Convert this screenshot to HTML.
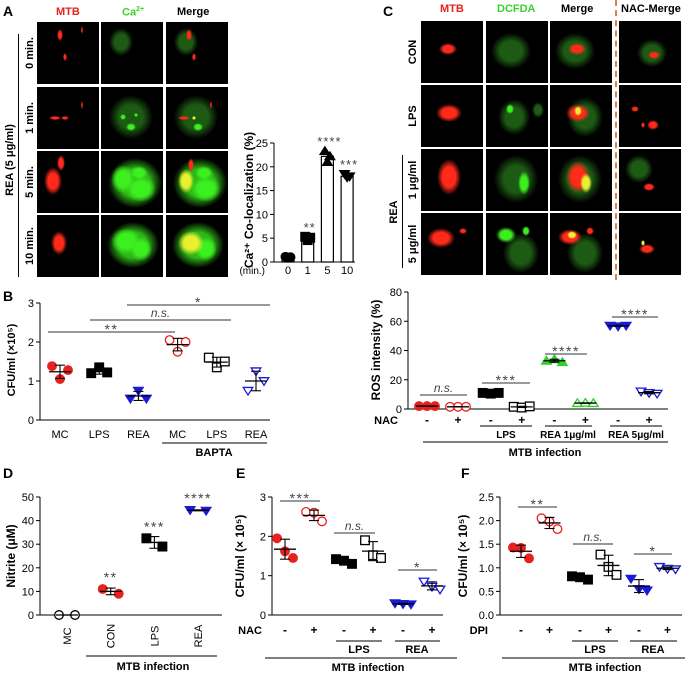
<!DOCTYPE html>
<html><head><meta charset="utf-8">
<style>
html,body{margin:0;padding:0;background:#fff;}
body{width:685px;height:674px;position:relative;overflow:hidden;font-family:"Liberation Sans",sans-serif;}
.cell{position:absolute;width:62px;height:62px;background:#000;}
.lbl{position:absolute;font-weight:bold;font-size:11px;white-space:nowrap;}
.rot{position:absolute;font-weight:bold;font-size:11px;white-space:nowrap;transform:translate(-50%,-50%) rotate(-90deg);}
#charts{position:absolute;left:0;top:0;}
</style></head>
<body>
<div class="lbl" style="left:3px;top:3px;font-size:14px">A</div>
<div class="lbl" style="left:383px;top:3px;font-size:14px">C</div>
<div class="lbl" style="left:3px;top:288px;font-size:14px">B</div>
<div class="lbl" style="left:3px;top:465px;font-size:14px">D</div>
<div class="lbl" style="left:236px;top:465px;font-size:14px">E</div>
<div class="lbl" style="left:461px;top:465px;font-size:14px">F</div>

<div class="lbl" style="left:56px;top:6px;color:#e8211f">MTB</div>
<div class="lbl" style="left:122px;top:6px;color:#39d12a">Ca<sup style="font-size:7px">2+</sup></div>
<div class="lbl" style="left:177px;top:6px">Merge</div>
<div style="position:absolute;left:18px;top:34px;width:1px;height:243px;background:#000"></div>
<div class="rot" style="left:10px;top:160px">REA (5 μg/ml)</div>
<div class="rot" style="left:30px;top:53px">0 min.</div>
<div class="rot" style="left:30px;top:118px">1 min.</div>
<div class="rot" style="left:30px;top:182px">5 min.</div>
<div class="rot" style="left:30px;top:246px">10 min.</div>

<div class="lbl" style="left:440px;top:3px;color:#e8211f">MTB</div>
<div class="lbl" style="left:497px;top:3px;color:#39d12a">DCFDA</div>
<div class="lbl" style="left:561px;top:3px">Merge</div>
<div class="lbl" style="left:621px;top:3px">NAC-Merge</div>
<div style="position:absolute;left:615px;top:0;width:0;height:280px;border-left:2px dashed #d9824a"></div>
<div class="rot" style="left:413px;top:52px">CON</div>
<div class="rot" style="left:413px;top:116px">LPS</div>
<div class="rot" style="left:413px;top:180px">1 μg/ml</div>
<div class="rot" style="left:413px;top:244px">5 μg/ml</div>
<div class="rot" style="left:394px;top:212px">REA</div>
<div style="position:absolute;left:402px;top:155px;width:1px;height:113px;background:#000"></div>

<div id="cells"></div>
<svg id="charts" width="685" height="674"></svg>

<script>
// ---------- microscopy cells (decorative) ----------
const R='#ff2a1a',G='#3cf020',Y='#e8f030',GD='#1d5a14',GM='#2fb818';
const cellDefs=[
 // panel A
 [37,22,[[R,23,13,3,6],[R,28,35,2,4],[R,45,8,1,4]]],
 [101,22,[[GD,20,20,12,14]]],
 [166,22,[[R,23,13,3,6],[R,28,35,2,4],[GD,20,20,12,14]]],
 [37,87,[[R,18,31,6,2],[R,28,31,4,2],[R,45,18,1,4]]],
 [101,87,[[G,22,30,3,3],[G,35,28,2,2],[G,30,40,5,4],[GD,30,30,22,22]]],
 [166,87,[[R,18,31,6,2],[Y,28,31,2,2],[R,45,18,1,4],[G,32,40,5,4],[GD,30,30,22,22]]],
 [37,151,[[R,16,30,9,14],[R,24,12,4,8]]],
 [101,151,[[G,22,28,12,14],[G,40,38,15,13],[G,38,22,9,7],[GM,34,32,27,25]]],
 [166,151,[[Y,20,30,8,12],[R,25,14,3,7],[G,40,38,15,13],[G,38,22,9,7],[GM,34,32,27,25]]],
 [37,215,[[R,22,28,8,12]]],
 [101,215,[[G,25,26,15,13],[G,40,34,11,12],[GM,32,30,26,23]]],
 [166,215,[[Y,25,28,13,12],[G,40,34,11,12],[GM,32,30,26,23]]],
 // panel C
 [421,21,[[R,27,28,9,6]]],
 [486,21,[[GD,25,30,20,18]]],
 [550,21,[[R,27,28,9,6],[GD,25,30,20,18]]],
 [619,21,[[R,35,34,6,4],[GD,33,32,15,14]]],
 [421,85,[[R,28,28,13,9]]],
 [486,85,[[G,24,24,4,5],[GD,52,25,6,8],[GD,28,32,16,18]]],
 [550,85,[[Y,28,26,4,5],[R,28,28,12,9],[GD,35,32,18,20]]],
 [619,85,[[R,16,24,4,3],[R,34,40,6,5],[R,24,40,2,3]]],
 [421,149,[[R,28,28,12,18]]],
 [486,149,[[G,38,34,6,12],[GD,30,30,22,24]]],
 [550,149,[[Y,36,34,6,10],[R,28,28,12,16],[GD,30,30,22,24]]],
 [619,149,[[R,30,38,6,4],[GD,20,20,14,14]]],
 [421,213,[[R,20,25,14,10],[R,42,18,4,3]]],
 [486,213,[[G,20,22,10,8],[G,40,18,4,5],[GD,35,40,18,20]]],
 [550,213,[[Y,22,22,5,4],[R,20,24,12,8],[R,40,18,4,4],[GD,35,40,18,20]]],
 [619,213,[[Y,24,30,2,3],[R,28,36,8,5]]]
];
const cellsDiv=document.getElementById('cells');
cellDefs.forEach(function(d,i){
  const el=document.createElement('div');
  el.className='cell';
  el.style.left=d[0]+'px';el.style.top=d[1]+'px';
  
  
  let bg=[];
  d[2].forEach(function(b){bg.push('radial-gradient(ellipse '+b[3]+'px '+b[4]+'px at '+b[1]+'px '+b[2]+'px,'+b[0]+' 0%,'+b[0]+' 55%,rgba(0,0,0,0) 100%)');});
  el.style.background=bg.join(',')+',#000';
  cellsDiv.appendChild(el);
});
</script>

<script>
// ---------- chart data ----------
const aCategories=['0','1','5','10'];
const aValues=[1.0,5.0,22.2,18.0];
const aPoints=[[1.1,0.9,1.0],[5.3,4.6,5.1],[23.3,21.0,22.2],[18.5,17.8,18.0]];
const aSig=['','**','****','***'];
const aTicks=[0,5,10,15,20,25];

const bCategories=['MC','LPS','REA','MC','LPS','REA'];
const bPoints=[[1.38,1.05,1.28],[1.2,1.35,1.22],[0.55,0.75,0.55],[2.05,1.75,2.0],[1.6,1.35,1.5],[0.75,1.25,1.0]];
const bTicks=[0,1,2,3];

const cCategories=['-','+','-','+','-','+','-','+'];
const cPoints=[[2,2,2],[1.5,1.5,1.5],[11,10.5,11],[1.5,1.0,1.8],[33,34,32],[4,4.2,4],[57,56.5,57],[12,11,10.5]];
const cTicks=[0,20,40,60,80];

const dCategories=['MC','CON','LPS','REA'];
const dPoints=[[0,0],[11,9],[32.5,29],[44.5,44.2]];
const dSig=['','**','***','****'];
const dTicks=[0,10,20,30,40,50];

const eCategories=['-','+','-','+','-','+'];
const ePoints=[[1.95,1.62,1.45],[2.62,2.6,2.38],[1.42,1.38,1.3],[1.9,1.52,1.45],[0.3,0.28,0.27],[0.85,0.72,0.65]];
const eTicks=[0,1,2,3];

const fCategories=['-','+','-','+','-','+'];
const fPoints=[[1.43,1.42,1.2],[2.05,1.98,1.82],[0.82,0.8,0.75],[1.28,1.02,0.85],[0.77,0.55,0.52],[1.02,0.98,0.97]];
const fTicks=[0,0.5,1.0,1.5,2.0,2.5];

// ---------- helpers ----------
const svg=document.getElementById('charts');
const NS='http://www.w3.org/2000/svg';
function mk(tag,attrs,name){
  const el=document.createElementNS(NS,tag);
  for(const k in attrs){el.setAttribute(k,attrs[k]);}
  
  
  svg.appendChild(el);
  return el;
}
function line(x1,y1,x2,y2,name,col,w){return mk('line',{x1:x1,y1:y1,x2:x2,y2:y2,stroke:col||'#000','stroke-width':w||1},name);}
function text(x,y,s,name,opt){
  opt=opt||{};
  const t=mk('text',{x:x,y:y,'font-size':opt.size||11,'text-anchor':opt.anchor||'middle','font-family':'Liberation Sans, sans-serif','font-weight':opt.bold?'bold':'normal','font-style':opt.italic?'italic':'normal',fill:opt.fill||'#000','letter-spacing':opt.ls||0},name);
  if(opt.rot)t.setAttribute('transform','rotate(-90 '+x+' '+y+')');
  t.textContent=s;return t;
}
function mean(a){return a.reduce(function(s,v){return s+v;},0)/a.length;}
function sd(a){const m=mean(a);return Math.sqrt(a.reduce(function(s,v){return s+(v-m)*(v-m);},0)/Math.max(1,a.length-1));}
function marker(type,x,y,col,name){
  const r=4.3;let fill=type.indexOf('Open')>=0?'#fff':col;
  if(type.indexOf('circle')===0)return mk('circle',{cx:x,cy:y,r:r,fill:fill,stroke:col,'stroke-width':1.3},name);
  if(type.indexOf('square')===0)return mk('rect',{x:x-r,y:y-r,width:2*r,height:2*r,fill:fill,stroke:col,'stroke-width':1.3},name);
  if(type.indexOf('triDown')===0)return mk('polygon',{points:(x-r-0.5)+','+(y-r+1)+' '+(x+r+0.5)+','+(y-r+1)+' '+x+','+(y+r),fill:fill,stroke:col,'stroke-width':1.3},name);
  return mk('polygon',{points:(x-r-0.5)+','+(y+r-1)+' '+(x+r+0.5)+','+(y+r-1)+' '+x+','+(y-r),fill:fill,stroke:col,'stroke-width':1.3},name);
}
function yAxis(x,y0,yTop,ticks,max,prefix,dec){
  line(x,y0,x,yTop,prefix+'-y-axis');
  ticks.forEach(function(t){const y=y0-(y0-yTop)*t/max;line(x-4,y,x,y,prefix+'-y-tick');text(x-6,y+4,dec?t.toFixed(1):String(t),prefix+'-y-tick-label',{anchor:'end',size:11});});
}
function scatterGroup(pts,x,y0,yTop,max,type,col,prefix,i){
  const off=pts.length===2?[-8,8]:[-8,0,8];
  const m=mean(pts),s=sd(pts);const sc=function(v){return y0-(y0-yTop)*v/max;};
  pts.forEach(function(v,j){marker(type,x+off[j],sc(v),col,prefix+'-point-'+i+'-'+j);});
  line(x-11,sc(m),x+11,sc(m),prefix+'-mean-'+i,'#000',1.3);
  line(x,sc(m-s),x,sc(m+s),prefix+'-errbar-'+i,'#000',1.1);
  line(x-5,sc(m-s),x+5,sc(m-s),prefix+'-errcap-lo-'+i,'#000',1.1);
  line(x-5,sc(m+s),x+5,sc(m+s),prefix+'-errcap-hi-'+i,'#000',1.1);
}
function sig(x1,x2,y,s,prefix,italic){line(x1,y,x2,y,prefix+'-sig-line','#333',1);text((x1+x2)/2,italic?y-3:y+2,s,prefix+'-sig-label',{size:italic?12:14,italic:italic,fill:'#444',ls:italic?0:1.5});}

// ---------- panel A bar chart ----------
(function(){
  const x0=274,y0=262,yT=143,max=25;const sc=function(v){return y0-(y0-yT)*v/max;};
  yAxis(x0,y0,yT,aTicks,max,'a',false);
  line(x0,y0,355,y0,'a-x-axis');
  const types=['circle','square','triUp','triDown'];
  aValues.forEach(function(v,i){
    const x=288+i*19.7;
    mk('rect',{x:x-6,y:sc(v),width:12,height:y0-sc(v),fill:'#fff',stroke:'#000','stroke-width':1.2},'a-bar-'+i);
    aPoints[i].forEach(function(p,j){marker(types[i],x+(j-1)*2.5,sc(p),'#000','a-point-'+i+'-'+j);});
    text(x,274,aCategories[i],'a-x-label',{size:11});
    if(aSig[i])text(x+2,sc(aPoints[i][0])-5,aSig[i],'a-sig-label',{size:13,fill:'#444',ls:1});
  });
  text(265,274,'(min.)','a-x-unit',{size:10,anchor:'end'});
  text(253,200,'Ca²⁺ Co-localization (%)','a-y-title',{rot:true,bold:true,size:12});
})();

// ---------- panel B ----------
(function(){
  const x0=40,y0=420,yT=303,max=3;
  yAxis(x0,y0,yT,bTicks,max,'b',false);
  line(x0,y0,270,y0,'b-x-axis');
  const types=['circle','square','triDown','circleOpen','squareOpen','triDownOpen'];
  const cols=['#e8211f','#000','#1a1adb','#e8211f','#000','#1a1adb'];
  bCategories.forEach(function(c,i){const x=60+i*39.2;scatterGroup(bPoints[i],x,y0,yT,max,types[i],cols[i],'b',i);text(x,438,c,'b-x-label',{size:11});});
  line(162,443,267,443,'b-bapta-line');text(214,456,'BAPTA','b-bapta-label',{bold:true,size:11});
  sig(48,175,332,'**','b');sig(90,231,320,'n.s.','b',true);sig(127,270,305,'*','b');
  text(15,360,'CFU/ml (×10⁵)','b-y-title',{rot:true,bold:true,size:11});
})();

// ---------- panel C ROS ----------
(function(){
  const x0=408,y0=409,yT=292,max=80;
  yAxis(x0,y0,yT,cTicks,max,'c',false);
  line(x0,y0,668,y0,'c-x-axis');
  const types=['circle','circleOpen','square','squareOpen','triUp','triUpOpen','triDown','triDownOpen'];
  const cols=['#e8211f','#e8211f','#000','#000','#2fd12a','#2fd12a','#1a1adb','#1a1adb'];
  cCategories.forEach(function(c,i){const x=427+Math.floor(i/2)*63.7+(i%2)*31;scatterGroup(cPoints[i],x,y0,yT,max,types[i],cols[i],'c',i);text(x,424,c,'c-nac-sign',{size:12,bold:true});});
  text(398,424,'NAC','c-nac-label',{anchor:'end',bold:true,size:11});
  line(480,426,532,426,'c-lps-line');text(506,438,'LPS','c-lps-label',{bold:true,size:10});
  line(545,426,592,426,'c-rea1-line');text(568,438,'REA  1μg/ml','c-rea1-label',{bold:true,size:10});
  line(610,426,662,426,'c-rea5-line');text(636,438,'REA  5μg/ml','c-rea5-label',{bold:true,size:10});
  line(423,442,668,442,'c-mtb-line');text(545,456,'MTB infection','c-mtb-label',{bold:true,size:11});
  sig(420,467,395,'n.s.','c',true);sig(482,530,383,'***','c');sig(545,587,354,'****','c');sig(612,658,317,'****','c');
  text(380,350,'ROS intensity (%)','c-y-title',{rot:true,bold:true,size:12});
})();

// ---------- panel D ----------
(function(){
  const x0=40,y0=615,yT=497,max=50;
  yAxis(x0,y0,yT,dTicks,max,'d',false);
  line(x0,y0,222,y0,'d-x-axis');
  const types=['circleOpen','circle','square','triDown'];const cols=['#000','#e8211f','#000','#1a1adb'];
  dCategories.forEach(function(c,i){const x=67+i*43.7;scatterGroup(dPoints[i],x,y0,yT,max,types[i],cols[i],'d',i);
    text(x+4,636,c,'d-x-label',{rot:true,size:11});
    if(dSig[i])text(x,y0-(y0-yT)*Math.max.apply(null,dPoints[i])/max-7,dSig[i],'d-sig-label',{size:14,fill:'#444',ls:1.5});});
  line(86,656,217,656,'d-mtb-line');text(153,670,'MTB infection','d-mtb-label',{bold:true,size:11});
  text(15,556,'Nitrite (μM)','d-y-title',{rot:true,bold:true,size:12});
})();

// ---------- panel E ----------
(function(){
  const x0=272,y0=615,yT=497,max=3;
  yAxis(x0,y0,yT,eTicks,max,'e',false);
  line(x0,y0,443,y0,'e-x-axis');
  const types=['circle','circleOpen','square','squareOpen','triDown','triDownOpen'];
  const cols=['#e8211f','#e8211f','#000','#000','#1a1adb','#1a1adb'];
  eCategories.forEach(function(c,i){const x=285+Math.floor(i/2)*59+(i%2)*29;scatterGroup(ePoints[i],x,y0,yT,max,types[i],cols[i],'e',i);text(x,634,c,'e-nac-sign',{size:12,bold:true});});
  text(262,634,'NAC','e-nac-label',{anchor:'end',bold:true,size:11});
  line(336,641,382,641,'e-lps-line');text(359,653,'LPS','e-lps-label',{bold:true,size:11});
  line(395,641,440,641,'e-rea-line');text(417,653,'REA','e-rea-label',{bold:true,size:11});
  line(265,658,457,658,'e-mtb-line');text(368,671,'MTB infection','e-mtb-label',{bold:true,size:11});
  sig(280,320,501,'***','e');sig(334,375,533,'n.s.','e',true);sig(398,437,570,'*','e');
  text(244,556,'CFU/ml (× 10⁵)','e-y-title',{rot:true,bold:true,size:12});
})();

// ---------- panel F ----------
(function(){
  const x0=500,y0=615,yT=497,max=2.5;
  yAxis(x0,y0,yT,fTicks,max,'f',true);
  line(x0,y0,682,y0,'f-x-axis');
  const types=['circle','circleOpen','square','squareOpen','triDown','triDownOpen'];
  const cols=['#e8211f','#e8211f','#000','#000','#1a1adb','#1a1adb'];
  fCategories.forEach(function(c,i){const x=521+Math.floor(i/2)*59+(i%2)*28.5;scatterGroup(fPoints[i],x,y0,yT,max,types[i],cols[i],'f',i);text(x,634,c,'f-dpi-sign',{size:12,bold:true});});
  text(488,634,'DPI','f-dpi-label',{anchor:'end',bold:true,size:11});
  line(572,641,618,641,'f-lps-line');text(595,653,'LPS','f-lps-label',{bold:true,size:11});
  line(630,641,677,641,'f-rea-line');text(653,653,'REA','f-rea-label',{bold:true,size:11});
  line(502,658,685,658,'f-mtb-line');text(605,671,'MTB infection','f-mtb-label',{bold:true,size:11});
  sig(518,557,507,'**','f');sig(573,613,544,'n.s.','f',true);sig(634,672,554,'*','f');
  text(467,556,'CFU/ml (× 10⁵)','f-y-title',{rot:true,bold:true,size:12});
})();
</script>
</body></html>
